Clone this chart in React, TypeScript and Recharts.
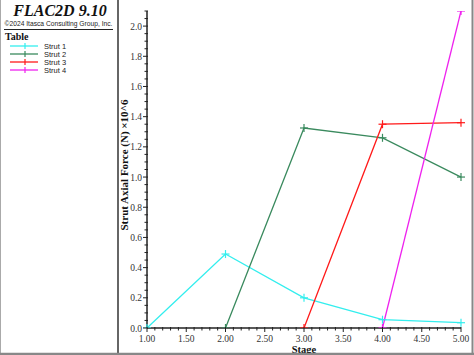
import { LineChart, Line, XAxis, YAxis } from 'recharts'

const stages = [1, 2, 3, 4, 5]
const strut1 = [0, 0.49, 0.2, 0.055, 0.035]
const strut2 = [null, 0, 1.325, 1.26, 1.0]
const strut3 = [null, null, 0, 1.35, 1.36]
const strut4 = [null, null, null, 0, 2.1]

const xMajor = [1, 1.5, 2, 2.5, 3, 3.5, 4, 4.5, 5]
const yMajor = [0, 0.2, 0.4, 0.6, 0.8, 1.0, 1.2, 1.4, 1.6, 1.8, 2.0]

const series = [
  { key: 's1', name: 'Strut 1', color: '#33eeee', values: strut1 },
  { key: 's2', name: 'Strut 2', color: '#3a8a5e', values: strut2 },
  { key: 's3', name: 'Strut 3', color: '#ff1a1a', values: strut3 },
  { key: 's4', name: 'Strut 4', color: '#ee22ee', values: strut4 },
]

const data = stages.map((s, i) => {
  const row: Record<string, number | null> = { stage: s }
  series.forEach((sr) => { row[sr.key] = sr.values[i] })
  return row
})

// minor ticks: x every 0.1, y every 0.05
const xTicks: number[] = []
for (let i = 10; i <= 50; i++) xTicks.push(i / 10)
const yTicks: number[] = []
for (let i = 0; i <= 42; i++) yTicks.push(Math.round(i * 5) / 100)

const isMajor = (v: number, list: number[]) => list.some((m) => Math.abs(m - v) < 1e-6)

const serif = '"Liberation Serif", "DejaVu Serif", serif'
const sans = '"Liberation Sans", Arial, sans-serif'

function XTick(props: any) {
  const { x, y, payload } = props
  const major = isMajor(payload.value, xMajor)
  return (
    <g>
      <line x1={x} x2={x} y1={y - 1} y2={y + (major ? 4 : 2.5)} stroke="#222" strokeWidth={1} />
      {major && (
        <text x={x} y={y + 14} textAnchor="middle" fontFamily={serif} fontSize={9.5} fill="#333">
          {payload.value.toFixed(2)}
        </text>
      )}
    </g>
  )
}

function YTick(props: any) {
  const { x, y, payload } = props
  const major = isMajor(payload.value, yMajor)
  return (
    <g>
      <line x1={x - (major ? 4 : 2.5)} x2={x + 1} y1={y} y2={y} stroke="#222" strokeWidth={1} />
      {major && (
        <text x={x - 5} y={y + 3.5} textAnchor="end" fontFamily={serif} fontSize={9.5} fill="#333">
          {payload.value.toFixed(1)}
        </text>
      )}
    </g>
  )
}

function Cross(props: any) {
  const { cx, cy, stroke, value } = props
  if (value === null || value === undefined || cx == null || cy == null) return null
  return (
    <g>
      <line x1={cx - 4} x2={cx + 4} y1={cy} y2={cy} stroke={stroke} strokeWidth={1.2} />
      <line x1={cx} x2={cx} y1={cy - 4} y2={cy + 4} stroke={stroke} strokeWidth={1.2} />
    </g>
  )
}

export default function App() {
  return (
    <div style={{ position: 'fixed', left: 0, top: 0, width: 474, height: 355, background: '#fff' }}>
      <LineChart
        width={474}
        height={355}
        data={data}
        margin={{ top: 11, right: 13, bottom: 0, left: 0 }}
      >
        <XAxis
          dataKey="stage"
          type="number"
          domain={[1, 5]}
          ticks={xTicks}
          interval={0}
          tick={<XTick />}
          tickLine={false}
          tickSize={0}
          tickMargin={0}
          axisLine={{ stroke: '#222', strokeWidth: 1.5 }}
          height={27}
          allowDecimals
        />
        <YAxis
          type="number"
          domain={[0, 2.1]}
          ticks={yTicks}
          interval={0}
          tick={<YTick />}
          tickLine={false}
          tickSize={0}
          tickMargin={0}
          axisLine={{ stroke: '#222', strokeWidth: 1.5 }}
          width={147}
          allowDataOverflow
        />
        {series.map((s) => (
          <Line
            key={s.key}
            dataKey={s.key}
            name={s.name}
            stroke={s.color}
            strokeWidth={1.3}
            dot={<Cross />}
            activeDot={false}
            connectNulls={false}
            isAnimationActive={false}
          />
        ))}
        <text x={304} y={352.5} textAnchor="middle" fontFamily={serif} fontWeight="bold" fontSize={10.5} fill="#111">
          Stage
        </text>
        <text
          x={128}
          y={165}
          textAnchor="middle"
          fontFamily={serif}
          fontWeight="bold"
          fontSize={11}
          fill="#111"
          transform="rotate(-90 128 165)"
        >
          Strut Axial Force (N) ×10^6
        </text>
      </LineChart>

      <svg width={474} height={355} style={{ position: 'absolute', left: 0, top: 0, pointerEvents: 'none' }}>
        <line x1={0.5} x2={0.5} y1={0} y2={355} stroke="#aaa" strokeWidth={1} />
        <line x1={118} x2={118} y1={0} y2={353} stroke="#333" strokeWidth={1.5} />
        <line x1={472.5} x2={472.5} y1={0} y2={355} stroke="#888" strokeWidth={2} />
        <line x1={0} x2={474} y1={354} y2={354} stroke="#888" strokeWidth={2.5} />
        <text x={60} y={16} textAnchor="middle" fontFamily={serif} fontStyle="italic" fontWeight="bold" fontSize={16} fill="#111">
          FLAC2D 9.10
        </text>
        <text x={58.5} y={25.5} textAnchor="middle" fontFamily={sans} fontSize={6.7} fill="#222">
          ©2024 Itasca Consulting Group, Inc.
        </text>
        <line x1={4} x2={113} y1={29.5} y2={29.5} stroke="#222" strokeWidth={1} />
        <text x={5} y={40} fontFamily={serif} fontWeight="bold" fontSize={10} fill="#111">
          Table
        </text>
        {series.map((s, i) => {
          const y = 46 + i * 8
          return (
            <g key={s.key}>
              <line x1={10} x2={38} y1={y} y2={y} stroke={s.color} strokeWidth={1.3} />
              <line x1={25} x2={25} y1={y - 3} y2={y + 3} stroke={s.color} strokeWidth={1.2} />
              <text x={44} y={y + 3} fontFamily={sans} fontSize={7.5} fill="#222">
                {s.name}
              </text>
            </g>
          )
        })}
      </svg>
    </div>
  )
}
